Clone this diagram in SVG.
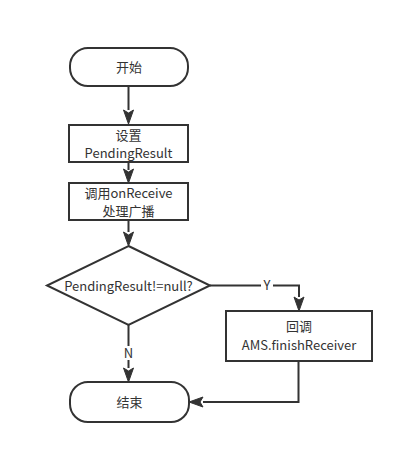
<svg xmlns="http://www.w3.org/2000/svg" width="403" height="454" viewBox="0 0 403 454">
<style>
.n{fill:#fff;stroke:#333;stroke-width:2}
.e{fill:none;stroke:#333;stroke-width:2}
.a{fill:#333;stroke:#333;stroke-width:1}
text{font-family:"Noto Sans CJK SC","Microsoft YaHei","DejaVu Sans",sans-serif;font-size:13px;fill:#333;text-anchor:middle}
</style>
<rect width="403" height="454" fill="#fff"/>
<g id="connectors">
<path class="e" d="M128.5 86V110"/><path class="a" d="M128.5 124l-5-14l5 3l5-3z"/>
<path class="e" d="M128.5 162V170"/><path class="a" d="M128.5 183l-5-14l5 3l5-3z"/>
<path class="e" d="M128.5 220V232"/><path class="a" d="M128.5 246l-5-14l5 3l5-3z"/>
<path class="e" d="M210 285.5H299V297"/><path class="a" d="M299 311l-5-14l5 3l5-3z"/>
<rect x="261" y="278" width="12" height="14" fill="#fff"/>
<text x="267" y="290">Y</text>
<path class="e" d="M128.5 325V368"/><path class="a" d="M128.5 382l-5-14l5 3l5-3z"/>
<rect x="122" y="346" width="13" height="14" fill="#fff"/>
<text x="128.5" y="358">N</text>
<path class="e" d="M298.5 361V402H203"/><path class="a" d="M189 402l14-5l-3 5l3 5z"/>
</g>
<g id="start"><rect class="n" x="70" y="48" width="118" height="38" rx="18"/><text x="129" y="71.5">开始</text></g>
<g id="setPending"><rect class="n" x="69" y="125" width="119" height="37"/><text x="128.5" y="140">设置</text><text x="128.5" y="157.5">PendingResult</text></g>
<g id="onReceive"><rect class="n" x="69" y="183" width="119" height="37"/><text x="128.5" y="198">调用onReceive</text><text x="128.5" y="215.5">处理广播</text></g>
<g id="decision"><path class="n" d="M128.5 246L210 285.5L128.5 325L47 285.5Z"/><text x="128.5" y="290.5">PendingResult!=null?</text></g>
<g id="finish"><rect class="n" x="226" y="311" width="146" height="50"/><text x="299" y="331">回调</text><text x="299" y="349.5">AMS.finishReceiver</text></g>
<g id="end"><rect class="n" x="70" y="382" width="119" height="40" rx="18"/><text x="129.5" y="406.5">结束</text></g>
</svg>
